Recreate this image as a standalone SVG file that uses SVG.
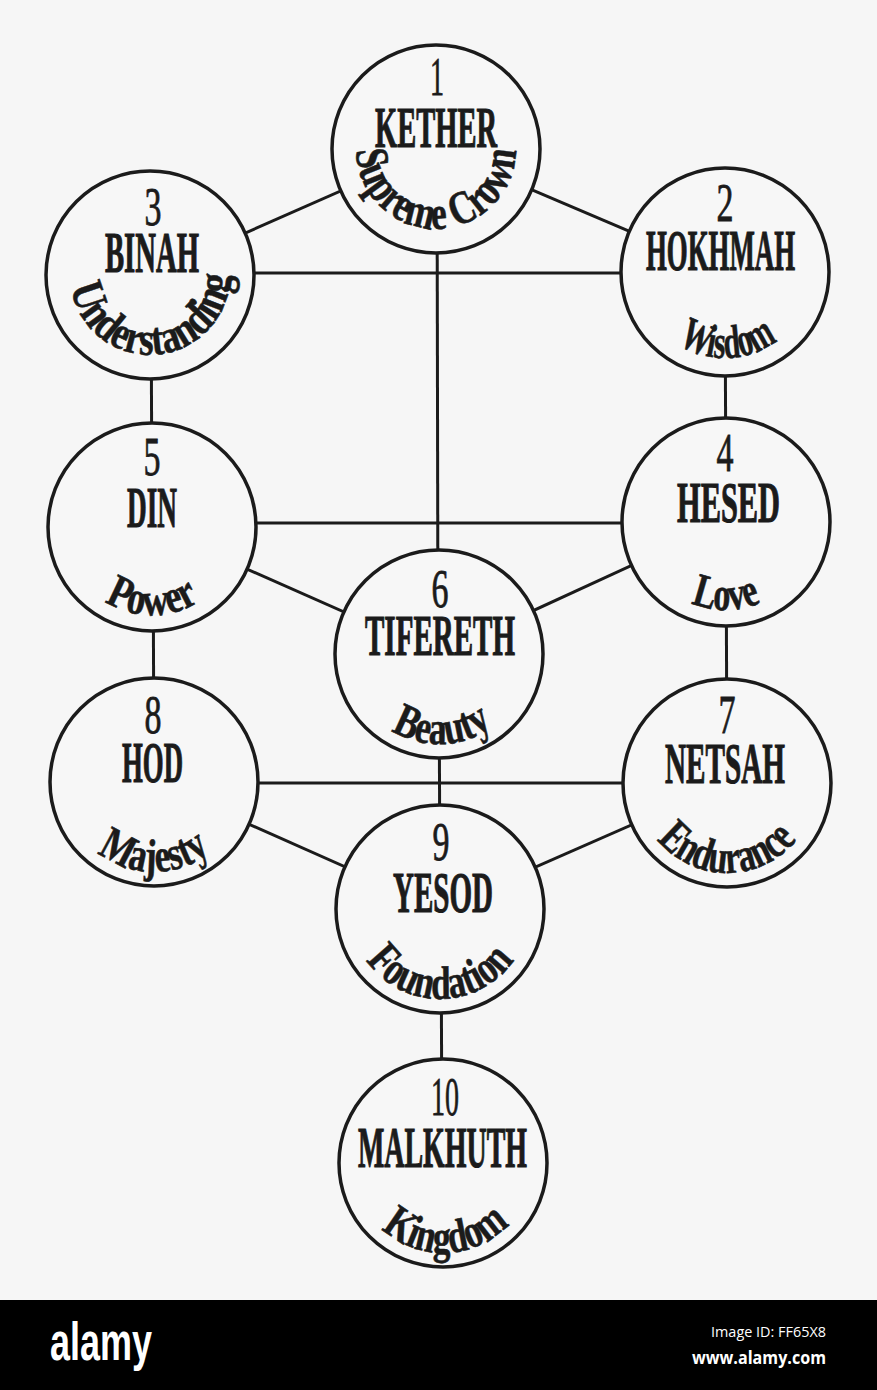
<svg xmlns="http://www.w3.org/2000/svg" width="877" height="1390" viewBox="0 0 877 1390">
<style>
.bg{fill:#f6f6f6}
.conn line{stroke:#1b1b1b;stroke-width:3}
.ring{fill:#f7f7f7;stroke:#1b1b1b;stroke-width:3.5}
.num{font-family:"Liberation Serif",serif;font-size:54px;fill:#1b1b1b;stroke:#1b1b1b;stroke-width:0.8;text-anchor:middle}
.name{font-family:"Liberation Serif",serif;font-size:58px;font-weight:bold;fill:#1b1b1b;stroke:#1b1b1b;stroke-width:1.2;text-anchor:middle}
.sub{font-family:"Liberation Serif",serif;font-size:47px;font-weight:bold;fill:#1b1b1b;stroke:#1b1b1b;stroke-width:0.6;text-anchor:middle}
.logo{font-family:"Liberation Sans",sans-serif;font-weight:bold;fill:#fff}
</style>
<defs>
<path id="a1" d="M360.8,121.6 A80,80 0 1 0 511.2,121.6"/>
<path id="a3" d="M74.8,247.6 A80,80 0 1 0 225.2,247.6"/>
<path id="a2" d="M644.2,242.6 A86,86 0 1 0 805.8,242.6"/>
<path id="a5" d="M69.4,496.9 A88,88 0 1 0 234.6,496.9"/>
<path id="a4" d="M643.3,491.9 A88,88 0 1 0 808.7,491.9"/>
<path id="a6" d="M354.5,623.2 A90,90 0 1 0 523.5,623.2"/>
<path id="a8" d="M69.4,751.2 A90,90 0 1 0 238.6,751.2"/>
<path id="a7" d="M642.4,752.2 A90,90 0 1 0 811.6,752.2"/>
<path id="a9" d="M355.4,878.2 A90,90 0 1 0 524.6,878.2"/>
<path id="a10" d="M358.4,1132.2 A90,90 0 1 0 527.6,1132.2"/>
</defs>
<rect class="bg" x="0" y="0" width="877" height="1300"/>
<g id="connectors" class="conn">
<line x1="436" y1="149" x2="150" y2="275"/>
<line x1="436" y1="149" x2="725" y2="272"/>
<line x1="150" y1="273" x2="725" y2="273"/>
<line x1="437" y1="149" x2="438" y2="654"/>
<line x1="151" y1="275" x2="152" y2="527"/>
<line x1="725" y1="272" x2="726" y2="522"/>
<line x1="152" y1="523" x2="726" y2="523"/>
<line x1="152" y1="527" x2="439" y2="654"/>
<line x1="726" y1="522" x2="439" y2="654"/>
<line x1="153" y1="527" x2="154" y2="782"/>
<line x1="726" y1="522" x2="727" y2="783"/>
<line x1="154" y1="783" x2="727" y2="783"/>
<line x1="439" y1="654" x2="440" y2="909"/>
<line x1="154" y1="782" x2="440" y2="909"/>
<line x1="727" y1="783" x2="440" y2="909"/>
<line x1="441" y1="909" x2="442" y2="1163"/>
</g>
<g id="n1"><circle class="ring" cx="436" cy="149" r="104"/><text class="num" x="437" y="95" textLength="14" lengthAdjust="spacingAndGlyphs">1</text><text class="name" x="436" y="147" textLength="122" lengthAdjust="spacingAndGlyphs">KETHER</text><text class="sub"><textPath href="#a1" startOffset="50%" textLength="248" lengthAdjust="spacingAndGlyphs">Supreme Crown</textPath></text></g>
<g id="n2"><circle class="ring" cx="725" cy="272" r="104"/><text class="num" x="725" y="221" textLength="17" lengthAdjust="spacingAndGlyphs">2</text><text class="name" x="720.5" y="270" textLength="149" lengthAdjust="spacingAndGlyphs">HOKHMAH</text><text class="sub"><textPath href="#a2" startOffset="51%" textLength="106" lengthAdjust="spacingAndGlyphs">Wisdom</textPath></text></g>
<g id="n3"><circle class="ring" cx="150" cy="275" r="104"/><text class="num" x="153" y="225" textLength="17" lengthAdjust="spacingAndGlyphs">3</text><text class="name" x="152" y="272" textLength="94" lengthAdjust="spacingAndGlyphs">BINAH</text><text class="sub"><textPath href="#a3" startOffset="52%" textLength="238" lengthAdjust="spacingAndGlyphs">Understanding</textPath></text></g>
<g id="n4"><circle class="ring" cx="726" cy="522" r="104"/><text class="num" x="725" y="471" textLength="17" lengthAdjust="spacingAndGlyphs">4</text><text class="name" x="728.5" y="522" textLength="103" lengthAdjust="spacingAndGlyphs">HESED</text><text class="sub"><textPath href="#a4" startOffset="50%" textLength="72" lengthAdjust="spacingAndGlyphs">Love</textPath></text></g>
<g id="n5"><circle class="ring" cx="152" cy="527" r="104"/><text class="num" x="152" y="475" textLength="17" lengthAdjust="spacingAndGlyphs">5</text><text class="name" x="152" y="527" textLength="50" lengthAdjust="spacingAndGlyphs">DIN</text><text class="sub"><textPath href="#a5" startOffset="50%" textLength="100" lengthAdjust="spacingAndGlyphs">Power</textPath></text></g>
<g id="n6"><circle class="ring" cx="439" cy="654" r="104"/><text class="num" x="440" y="607" textLength="17" lengthAdjust="spacingAndGlyphs">6</text><text class="name" x="440" y="655" textLength="150" lengthAdjust="spacingAndGlyphs">TIFERETH</text><text class="sub"><textPath href="#a6" startOffset="51%" textLength="108" lengthAdjust="spacingAndGlyphs">Beauty</textPath></text></g>
<g id="n7"><circle class="ring" cx="727" cy="783" r="104"/><text class="num" x="727" y="733" textLength="17" lengthAdjust="spacingAndGlyphs">7</text><text class="name" x="725" y="783" textLength="120" lengthAdjust="spacingAndGlyphs">NETSAH</text><text class="sub"><textPath href="#a7" startOffset="50%" textLength="160" lengthAdjust="spacingAndGlyphs">Endurance</textPath></text></g>
<g id="n8"><circle class="ring" cx="154" cy="782" r="104"/><text class="num" x="153" y="733" textLength="17" lengthAdjust="spacingAndGlyphs">8</text><text class="name" x="152.5" y="782" textLength="61" lengthAdjust="spacingAndGlyphs">HOD</text><text class="sub"><textPath href="#a8" startOffset="50%" textLength="122" lengthAdjust="spacingAndGlyphs">Majesty</textPath></text></g>
<g id="n9"><circle class="ring" cx="440" cy="909" r="104"/><text class="num" x="441" y="860" textLength="17" lengthAdjust="spacingAndGlyphs">9</text><text class="name" x="443" y="912" textLength="100" lengthAdjust="spacingAndGlyphs">YESOD</text><text class="sub"><textPath href="#a9" startOffset="50%" textLength="174" lengthAdjust="spacingAndGlyphs">Foundation</textPath></text></g>
<g id="n10"><circle class="ring" cx="443" cy="1163" r="104"/><text class="num" x="445" y="1115" textLength="28" lengthAdjust="spacingAndGlyphs">10</text><text class="name" x="442.5" y="1167" textLength="169" lengthAdjust="spacingAndGlyphs">MALKHUTH</text><text class="sub"><textPath href="#a10" startOffset="51%" textLength="142" lengthAdjust="spacingAndGlyphs">Kingdom</textPath></text></g>
<g id="footer">
<rect x="0" y="1300" width="877" height="90" fill="#000"/>
<text class="logo" x="50" y="1360" font-size="54" textLength="102" lengthAdjust="spacingAndGlyphs">alamy</text>
<text x="826" y="1337" font-family="'Open Sans',sans-serif" font-size="14" fill="#fff" text-anchor="end" textLength="115" lengthAdjust="spacingAndGlyphs">Image ID: FF65X8</text>
<text x="826" y="1364" font-family="'Open Sans',sans-serif" font-size="18" font-weight="bold" fill="#fff" text-anchor="end" textLength="134" lengthAdjust="spacingAndGlyphs">www.alamy.com</text>
</g>
</svg>
